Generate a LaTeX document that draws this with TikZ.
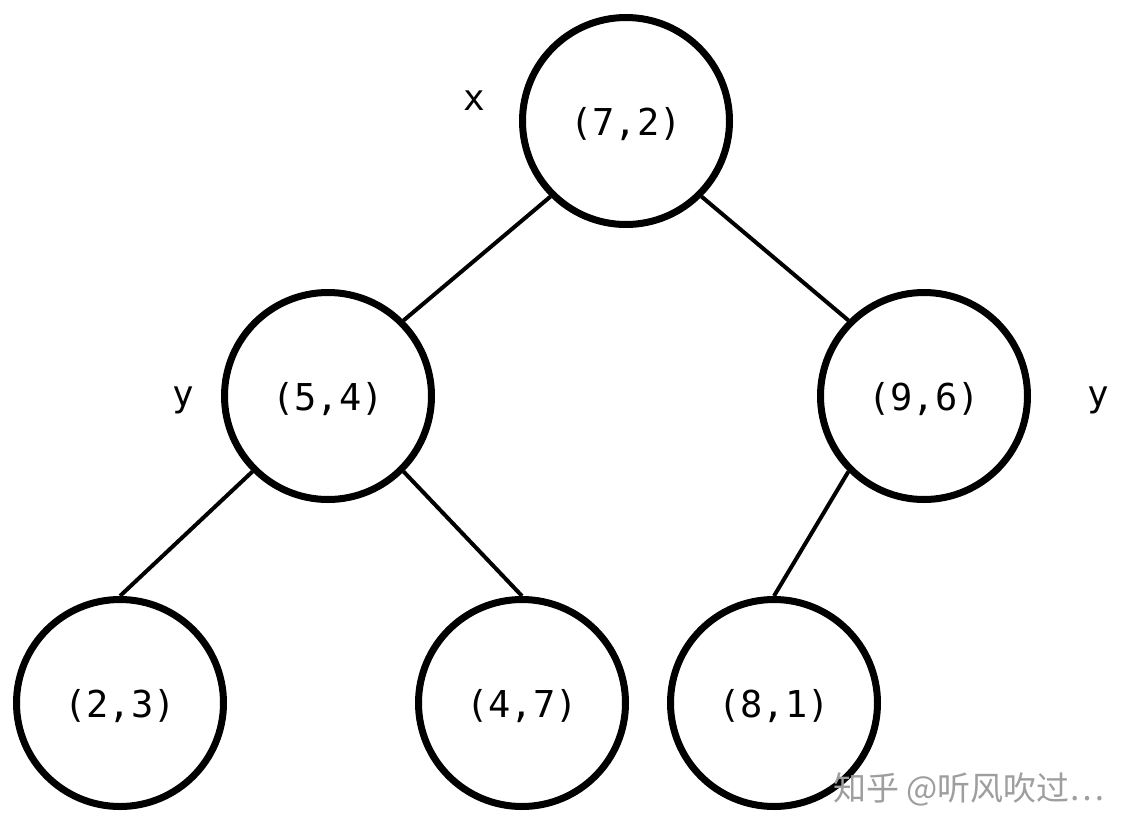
\documentclass[tikz,border=0pt]{standalone}
\usepackage{fontspec}
\newfontfamily\monofont{DejaVu Sans Mono}
\newfontfamily\cjk{Noto Sans CJK SC}
\begin{document}
\begin{tikzpicture}[x=1pt,y=-1pt,
  kd/.style={circle,draw=black,line width=7pt,minimum size=207pt,inner sep=0pt,
    text height=35pt,text depth=6pt,
    font=\monofont\fontsize{37}{42}\selectfont},
  lbl/.style={font=\monofont\fontsize{36}{42}\selectfont},
  edge/.style={line width=4pt}]
\useasboundingbox (0,0) rectangle (1141,833);
\fill[white] (0,0) rectangle (1141,833);
\node[kd] (r) at (626,121) {(7,2)};
\node[kd] (a) at (328,396) {(5,4)};
\node[kd] (b) at (924,396) {(9,6)};
\node[kd] (c) at (120,703) {(2,3)};
\node[kd] (d) at (522,703) {(4,7)};
\node[kd] (e) at (774,703) {(8,1)};
\node[lbl] (lx) at (474,101) {x};
\node[lbl] (ly1) at (183,400) {y};
\node[lbl] (ly2) at (1098,400) {y};
\draw[edge] (r.south west) -- (a.north east);
\draw[edge] (r.south east) -- (b.north west);
\draw[edge] (a.south west) -- (c.north);
\draw[edge] (a.south east) -- (d.north);
\draw[edge] (b.south west) -- (e.north);
\node[anchor=west,text=black!38,font=\cjk\fontsize{33}{38}\selectfont,inner sep=0pt] (wm) at (833,789) {知乎 @听风吹过…};
\end{tikzpicture}
\end{document}
